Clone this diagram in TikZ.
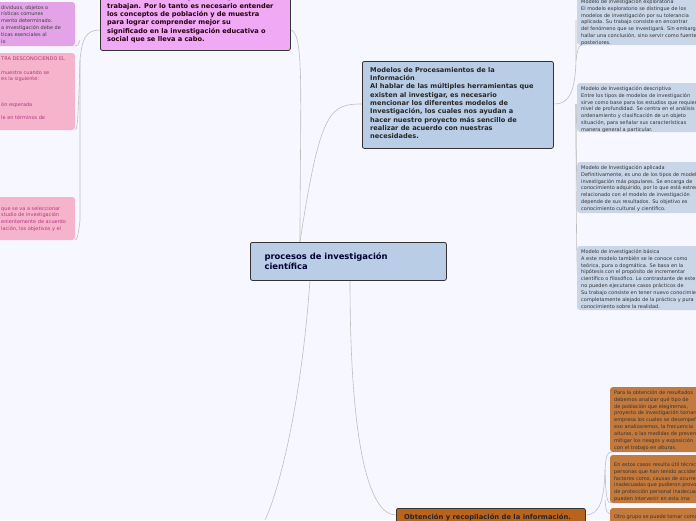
\documentclass[tikz,border=0pt]{standalone}
\usepackage{fontspec}
\setmainfont{DejaVu Sans}
\begin{document}
\begin{tikzpicture}[x=1pt,y=-1pt,
  leaf/.style={rounded corners=2pt,inner sep=0pt},
  lt/.style={font=\fontsize{5}{6.9}\selectfont,align=left,anchor=north west,inner sep=0pt},
  conn/.style={draw=black!25,line width=0.6pt},
  main/.style={draw=black!80,line width=0.8pt,rounded corners=2pt}]
\useasboundingbox (0,0) rectangle (696,520);
\fill[blue!3] (0,0) rectangle (696,520);
\clip (0,0) rectangle (696,520);
\definecolor{pur}{HTML}{EFA9F5}
\definecolor{blu}{HTML}{B9CDE7}
\definecolor{blul}{HTML}{C9D6E8}
\definecolor{ora}{HTML}{B8641E}
\definecolor{oral}{HTML}{C47A3C}
\definecolor{pink}{HTML}{F6B3CC}
\definecolor{lpur}{HTML}{E3A3E6}
% connectors
\coordinate (c1) at (300,242);
\draw[conn] (c1) .. controls (300,100) and (305,30) .. (290,30);
\draw[conn] (c1) .. controls (320,110) and (330,104) .. (362,104);
\draw[conn] (350,280) .. controls (350,450) and (370,515) .. (396,515);
\draw[conn] (310,280) .. controls (300,420) and (275,500) .. (265,520);
% left connectors
\draw[conn] (100,30) .. controls (85,30) and (82,40) .. (80,60) -- (80,220) .. controls (78,240) and (76,240) .. (75,240);
\draw[conn] (80,60) .. controls (78,128) and (77,130) .. (75,130);
\draw[conn] (80,40) .. controls (78,46) and (77,46) .. (75,46);
% right connectors
\draw[conn] (553,104) .. controls (565,104) and (575,100) .. (576,60) -- (576,20);
\draw[conn] (576,60) .. controls (578,45) and (580,45) .. (583,45);
\draw[conn] (576,104) .. controls (576,128) and (578,132) .. (583,132);
\draw[conn] (576,104) .. controls (576,205) and (578,213) .. (583,213);
\draw[conn] (576,104) .. controls (576,300) and (578,310) .. (583,310);
\draw[conn] (585,515) .. controls (600,515) and (604,500) .. (605,470) .. controls (606,455) and (607,452) .. (612,452);
\draw[conn] (605,470) .. controls (606,500) and (607,503) .. (612,503);
\draw[conn] (605,500) .. controls (606,512) and (607,514) .. (612,514);
% central
\node[main,fill=blu,minimum width=196pt,minimum height=38pt,anchor=north west] (central) at (250,242) {};
\node[anchor=west,align=left,font=\fontsize{8.4}{10}\selectfont\bfseries,text=blue!20!black] at (261,261) {procesos de investigación\\científica};
% purple top
\node[main,fill=pur,minimum width=190pt,minimum height=60pt,anchor=north west] (pbox) at (100,-10) {};
\node[anchor=north west,align=left,inner sep=0pt,font=\fontsize{6.6}{8.3}\selectfont\bfseries,text=black!80!purple] at (107,-5.5) {relación entre del conjunto con que se\\trabajan. Por lo tanto es necesario entender\\los conceptos de población y de muestra\\para lograr comprender mejor su\\significado en la investigación educativa o\\social que se lleva a cabo.};
% blue box
\node[main,fill=blu,minimum width=191pt,minimum height=87pt,anchor=north west] (bbox) at (362,61) {};
\node[anchor=north west,align=left,inner sep=0pt,font=\fontsize{6.6}{8.3}\selectfont\bfseries,text=black!85] at (370,67) {Modelos de Procesamientos de la\\Información\\Al hablar de las múltiples herramientas que\\existen al investigar, es necesario\\mencionar los diferentes modelos de\\Investigación, los cuales nos ayudan a\\hacer nuestro proyecto más sencillo de\\realizar de acuerdo con nuestras\\necesidades.};
% orange box
\node[main,fill=ora,minimum width=189pt,minimum height=30pt,anchor=north west] (obox) at (396,508) {};
\node[anchor=north west,inner sep=0pt,font=\fontsize{6.8}{8}\selectfont\bfseries,text=black!85] at (404,514) {Obtención y recopilación de la información.};
% right blue leaves
\fill[blul,rounded corners=3pt] (577,-10) rectangle (710,45);
\node[lt,text=black!80] at (581,-1) {Modelo de investigación exploratoria\\El modelo exploratorio se distingue de los\\modelos de investigación por su tolerancia\\aplicada. Su trabajo consiste en encontrar\\del fenómeno que se investigará. Sin embargo\\hallar una conclusión, sino servir como fuente\\posteriores.};
\fill[blul,rounded corners=3pt] (577,83) rectangle (710,132);
\node[lt,text=black!80] at (581,86) {Modelo de Investigación descriptiva\\Entre los tipos de modelos de investigación\\sirve como base para los estudios que requieren\\nivel de profundidad. Se centra en el análisis\\ordenamiento y clasificación de un objeto\\situación, para señalar sus características\\manera general a particular.};
\fill[blul,rounded corners=3pt] (577,162) rectangle (710,213);
\node[lt,text=black!80] at (581,165) {Modelo de Investigación aplicada\\Definitivamente, es uno de los tipos de modelos\\investigación más populares. Se encarga de\\conocimiento adquirido, por lo que está estrechamente\\relacionado con el modelo de investigación\\depende de sus resultados. Su objetivo es\\conocimiento cultural y científico.};
\fill[blul,rounded corners=3pt] (577,246) rectangle (710,310);
\node[lt,text=black!80] at (581,249) {Modelo de investigación básica\\A este modelo también se le conoce como\\teórica, pura o dogmática. Se basa en la\\hipótesis con el propósito de incrementar\\científico o filosófico. Lo contrastante de este\\no pueden ejecutarse casos prácticos de\\Su trabajo consiste en tener nuevo conocimiento\\completamente alejado de la práctica y pura\\conocimiento sobre la realidad.};
% right orange leaves
\fill[oral,rounded corners=3pt] (610,387) rectangle (710,452);
\node[lt,text=black!80] at (614,390) {Para la obtención de resultados\\debemos analizar qué tipo de\\de población que elegiremos,\\proyecto de investigación tomaremos\\empresa los cuales se desempeñan\\eso analizaremos, la frecuencia\\alturas, o las medidas de prevención\\mitigar los riesgos y exposición\\con el trabajo en alturas.};
\fill[oral,rounded corners=3pt] (610,455) rectangle (710,503);
\node[lt,text=black!80] at (614,462) {En estos casos resulta útil técnicas\\personas que han tenido accidentes\\factores como, causas de ocurrencia\\inadecuadas que pudieron provocar\\de protección personal inadecuados\\pueden intervenir en esta ima};
\fill[oral,rounded corners=3pt] (610,508) rectangle (710,530);
\node[lt,text=black!80] at (614,514) {Otro grupo se puede tomar como};
% left leaves
\fill[lpur,rounded corners=3pt] (-10,2) rectangle (75,46);
\node[lt,text=black!75] at (1,5) {dividuos, objetos o\\rísticas comunes\\mento determinado.\\a investigación debe de\\ticas esenciales al\\io};
\fill[pink,rounded corners=3pt] (-10,53) rectangle (75,130);
\node[lt,text=magenta!70!black] at (1,57) {TRA DESCONOCIENDO EL};
\node[lt,text=magenta!70!black] at (1,70) { muestra cuando se\\es la siguiente:};
\node[lt,text=magenta!70!black] at (1,102) {ón esperada};
\node[lt,text=magenta!70!black] at (1,115) {le en términos de};
\fill[pink,rounded corners=3pt] (-10,197) rectangle (75,240);
\node[lt,text=magenta!70!black] at (1,206) {que se va a seleccionar\\studio de investigación\\enientemente de acuerdo\\lación, los objetivos y el};
\end{tikzpicture}
\end{document}
